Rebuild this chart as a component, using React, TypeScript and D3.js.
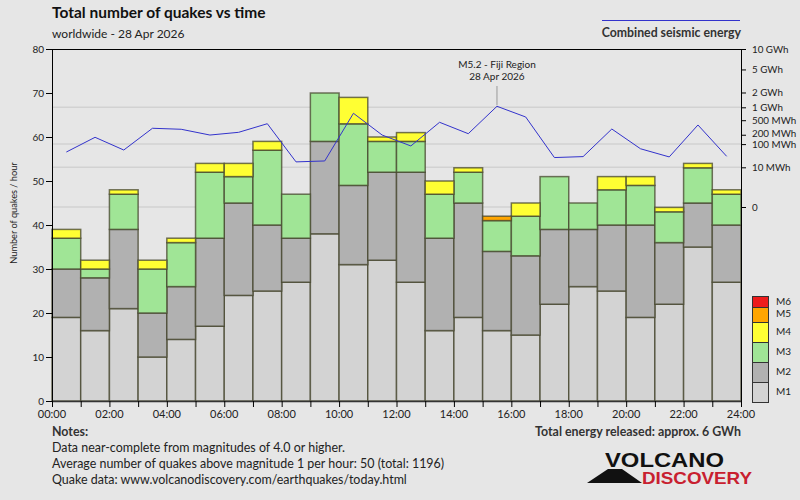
import React from "react";
import * as d3 from "d3";

// Hour-of-day bins (start hour of each bar)
const hours = [0, 1, 2, 3, 4, 5, 6, 7, 8, 9, 10, 11, 12, 13, 14, 15, 16, 17, 18, 19, 20, 21, 22, 23];

// Quakes per hour by magnitude class
const m1 = [19, 16, 21, 10, 14, 17, 24, 25, 27, 38, 31, 32, 27, 16, 19, 16, 15, 22, 26, 25, 19, 22, 35, 27];
const m2 = [11, 12, 18, 10, 12, 20, 21, 15, 10, 21, 18, 20, 25, 21, 26, 18, 18, 17, 13, 15, 21, 14, 10, 13];
const m3 = [7, 2, 8, 10, 10, 15, 6, 17, 10, 11, 14, 7, 7, 10, 7, 7, 9, 12, 6, 8, 9, 7, 8, 7];
const m4 = [2, 2, 1, 2, 1, 2, 3, 2, 0, 0, 6, 1, 2, 3, 1, 0, 3, 0, 0, 3, 2, 1, 1, 1];
const m5 = [0, 0, 0, 0, 0, 0, 0, 0, 0, 0, 0, 0, 0, 0, 0, 1, 0, 0, 0, 0, 0, 0, 0, 0];
const m6 = [0, 0, 0, 0, 0, 0, 0, 0, 0, 0, 0, 0, 0, 0, 0, 0, 0, 0, 0, 0, 0, 0, 0, 0];

// Seismic energy released per hour, MWh
const energyMWh = [51, 167, 61, 307, 288, 196, 236, 407, 19, 21, 734, 196, 86, 443, 215, 1052, 600, 30, 33, 293, 68, 32, 377, 34];

const magnitudes = ["M1", "M2", "M3", "M4", "M5", "M6"];
const magnitudeColors = ["#d3d3d3", "#b1b1b1", "#a0e596", "#ffff33", "#ffa500", "#ee1c1c"];

const xTickLabels = ["00:00", "02:00", "04:00", "06:00", "08:00", "10:00", "12:00", "14:00", "16:00", "18:00", "20:00", "22:00", "24:00"];
const countTicks = [0, 10, 20, 30, 40, 50, 60, 70, 80];
const energyTicks = [10000, 5000, 2000, 1000, 500, 200, 100, 10, 0];
const energyTickLabels = ["10 GWh", "5 GWh", "2 GWh", "1 GWh", "500 MWh", "200 MWh", "100 MWh", "10 MWh", "0"];
const energyGridValues = [1000, 100, 10, 0];

const noteLines = [
  "Data near-complete from magnitudes of 4.0 or higher.",
  "Average number of quakes above magnitude 1 per hour: 50 (total: 1196)",
  "Quake data: www.volcanodiscovery.com/earthquakes/today.html",
];

const annotationLines = ["M5.2 - Fiji Region", "28 Apr 2026"];
const annotationHour = 15;

const FONT = "Lato, 'Open Sans', sans-serif";

const left = 52;
const right = 741;
const top = 49;
const bottom = 401;

export default function App() {
  const x = d3.scaleLinear().domain([0, 24]).range([left, right]);
  const y = d3.scaleLinear().domain([0, 80]).range([bottom, top]);
  const yE = d3.scalePow().exponent(0.2).domain([0, 10000]).range([207, top]);

  const rows = hours.map((h, i) => ({
    hour: h,
    M1: m1[i],
    M2: m2[i],
    M3: m3[i],
    M4: m4[i],
    M5: m5[i],
    M6: m6[i],
  }));
  const series = d3.stack<any>().keys(magnitudes)(rows);

  const line = d3
    .line<number>()
    .x((_, i) => x(hours[i] + 0.5))
    .y((d) => yE(d));

  const hourTicks = d3.range(0, 25);

  // small vertical nudges keep the two closely spaced labels readable
  const energyLabelShift: Record<string, number> = { "200 MWh": -1, "100 MWh": 0 };

  // legend boxes stacked from the top: M6 .. M1
  const legendBoxes = [
    { key: "M6", y0: 296, h: 11, ty: 305 },
    { key: "M5", y0: 307, h: 15, ty: 317 },
    { key: "M4", y0: 322, h: 20, ty: 335 },
    { key: "M3", y0: 342, h: 20, ty: 355 },
    { key: "M2", y0: 362, h: 20, ty: 375 },
    { key: "M1", y0: 382, h: 20, ty: 395 },
  ];

  return (
    <svg
      width={800}
      height={500}
      style={{ position: "absolute", left: 0, top: 0, display: "block", background: "#e6e6e6" }}
      fontFamily={FONT}
    >
      <rect x={0} y={0} width={800} height={500} fill="#e6e6e6" />

      {/* titles */}
      <text x={52} y={18} fontSize={15.5} fontWeight="bold" fill="#111">
        Total number of quakes vs time
      </text>
      <text x={52} y={38} fontSize={12} fill="#222">
        worldwide - 28 Apr 2026
      </text>

      {/* energy legend */}
      <line x1={602} x2={740} y1={20.5} y2={20.5} stroke="#3333cc" strokeWidth={1} />
      <text x={741} y={37} fontSize={12.3} fontWeight="bold" fill="#333" textAnchor="end">
        Combined seismic energy
      </text>

      {/* energy grid lines */}
      {energyGridValues.map((v) => (
        <line key={v} x1={left} x2={right} y1={yE(v)} y2={yE(v)} stroke="#d2d2d2" strokeWidth={1.5} />
      ))}

      {/* stacked bars */}
      {series.map((s, si) => (
        <g key={s.key} fill={magnitudeColors[si]}>
          {s.map((d, i) =>
            d[1] - d[0] > 0 ? (
              <rect
                key={i}
                x={x(hours[i])}
                width={x(hours[i] + 1) - x(hours[i])}
                y={y(d[1])}
                height={y(d[0]) - y(d[1])}
                stroke="rgba(70,70,45,0.75)"
                strokeWidth={1.5}
              />
            ) : null
          )}
        </g>
      ))}

      {/* energy line */}
      <path d={line(energyMWh) || ""} fill="none" stroke="#3333cc" strokeWidth={1} />

      {/* annotation for the strongest quake */}
      <line
        x1={x(annotationHour + 0.5)}
        x2={x(annotationHour + 0.5)}
        y1={86}
        y2={yE(energyMWh[annotationHour]) - 1}
        stroke="#999"
        strokeWidth={1}
      />
      {annotationLines.map((t, i) => (
        <text key={i} x={x(annotationHour + 0.5)} y={68 + i * 12} fontSize={10} fill="#222" textAnchor="middle">
          {t}
        </text>
      ))}

      {/* frame */}
      <line x1={left} x2={right} y1={top + 0.5} y2={top + 0.5} stroke="#000" />
      <line x1={left + 0.5} x2={left + 0.5} y1={top} y2={bottom + 6} stroke="#000" />
      <line x1={right + 0.5} x2={right + 0.5} y1={top} y2={bottom + 6} stroke="#000" />
      <line x1={left} x2={right} y1={bottom + 0.5} y2={bottom + 0.5} stroke="#333" strokeWidth={1.5} />

      {/* left axis */}
      {countTicks.map((t) => (
        <g key={t}>
          <line x1={46} x2={left} y1={y(t) + 0.5} y2={y(t) + 0.5} stroke="#000" />
          <text x={44} y={y(t) + 3.5} fontSize={10} fill="#222" textAnchor="end">
            {t}
          </text>
        </g>
      ))}
      <text
        transform="translate(17,213) rotate(-90)"
        fontSize={9.2}
        fill="#222"
        textAnchor="middle"
      >
        Number of quakes / hour
      </text>

      {/* x axis */}
      {hourTicks.map((h) => (
        <line key={h} x1={x(h) + 0.5} x2={x(h) + 0.5} y1={bottom} y2={bottom + 6} stroke="#000" />
      ))}
      {xTickLabels.map((l, i) => (
        <text key={l} x={x(i * 2)} y={418} fontSize={11} fill="#222" textAnchor="middle">
          {l}
        </text>
      ))}

      {/* right axis */}
      {energyTicks.map((v, i) => (
        <g key={v}>
          <line x1={right} x2={746} y1={yE(v) + 0.5} y2={yE(v) + 0.5} stroke="#000" />
          <text
            x={752}
            y={yE(v) + 3.5 + (energyLabelShift[energyTickLabels[i]] || 0)}
            fontSize={9.8}
            fill="#222"
          >
            {energyTickLabels[i]}
          </text>
        </g>
      ))}

      {/* magnitude legend */}
      {legendBoxes.map((b) => {
        const idx = magnitudes.indexOf(b.key);
        return (
          <g key={b.key}>
            <rect x={752.5} y={b.y0 + 0.5} width={16} height={b.h} fill={magnitudeColors[idx]} stroke="#333" strokeWidth={1} />
            <text x={776} y={b.ty} fontSize={10} fill="#222">
              {b.key}
            </text>
          </g>
        );
      })}

      {/* notes */}
      <text x={52} y={436} fontSize={12.4} fontWeight="bold" fill="#333">
        Notes:
      </text>
      {noteLines.map((t, i) => (
        <text key={i} x={52} y={452 + i * 16} fontSize={12.45} fill="#222">
          {t}
        </text>
      ))}
      <text x={741} y={436} fontSize={12.4} fontWeight="bold" fill="#333" textAnchor="end">
        Total energy released: approx. 6 GWh
      </text>

      {/* logo */}
      <polygon points="587,483 608,469 622,469 642,483" fill="#111" />
      <text
        x={605}
        y={467}
        fontSize={20}
        fontWeight="bold"
        fill="#111"
        fontFamily="'Liberation Sans Narrow', 'Liberation Sans', Arial, sans-serif"
        textLength={119}
        lengthAdjust="spacingAndGlyphs"
      >
        VOLCANO
      </text>
      <text
        x={642}
        y={484}
        fontSize={16.5}
        fontWeight="bold"
        fill="#c8202f"
        fontFamily="'Liberation Sans Narrow', 'Liberation Sans', Arial, sans-serif"
        textLength={110}
        lengthAdjust="spacingAndGlyphs"
      >
        DISCOVERY
      </text>
    </svg>
  );
}
